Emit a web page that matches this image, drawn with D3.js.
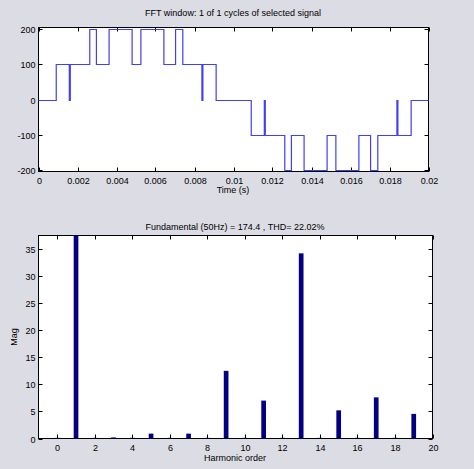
<!DOCTYPE html>
<html><head><meta charset="utf-8">
<script src="https://cdn.jsdelivr.net/npm/d3@7"></script>
<style>body{margin:0;background:#dcdce4}svg{display:block}text{font-family:"Liberation Sans",Arial,sans-serif;font-size:9px;fill:#000}</style>
</head><body><div id="chart"></div>
<script>
// step signal: [time, value] breakpoints for the first half cycle (second half is the mirror)
const halfSteps = [
  [0, 0], [0.00091, 100], [0.00158, 0], [0.00163, 100], [0.00263, 200], [0.00297, 100],
  [0.00362, 200], [0.0048, 100], [0.00525, 200], [0.00643, 100], [0.00703, 200],
  [0.0074, 100], [0.00838, 0], [0.00843, 100], [0.00911, 0]
];
const harmonicOrder = d3.range(0, 20);
const harmonicMag = [0.05, 100, 0.05, 0.2, 0.05, 0.9, 0.05, 0.9, 0.05, 12.5, 0.05, 7.0, 0.05, 34.2, 0.05, 5.2, 0.05, 7.6, 0.05, 4.55];
const timeTicks = [0, 0.002, 0.004, 0.006, 0.008, 0.01, 0.012, 0.014, 0.016, 0.018, 0.02];
const sigTicks = [-200, -100, 0, 100, 200];
const magTicks = [0, 5, 10, 15, 20, 25, 30, 35];
const ordTicks = [0, 2, 4, 6, 8, 10, 12, 14, 16, 18, 20];

const svg = d3.select('#chart').append('svg').attr('width', 474).attr('height', 469);

// build full-cycle step points
const steps = halfSteps.concat(halfSteps.map(d => [d[0] + 0.01, -d[1]]));
const pts = [];
steps.forEach((d, i) => {
  if (i > 0) pts.push([d[0], steps[i - 1][1]]);
  pts.push(d);
});
pts.push([0.02, steps[steps.length - 1][1]]);

function frame(g, x0, y0, w, h) {
  g.append('rect').attr('x', x0).attr('y', y0).attr('width', w).attr('height', h)
    .attr('fill', '#fff').attr('stroke', '#000').attr('stroke-width', 1);
}
function ticks(g, x, y, xt, yt, fmtX, fmtY) {
  const [xa, xb] = x.range(), [ya, yb] = y.range();
  xt.forEach(t => {
    const px = Math.round(x(t)) + 0.5;
    g.append('line').attr('x1', px).attr('x2', px).attr('y1', ya).attr('y2', ya - 4).attr('stroke', '#000');
    g.append('line').attr('x1', px).attr('x2', px).attr('y1', yb).attr('y2', yb + 4).attr('stroke', '#000');
    g.append('text').attr('x', px).attr('y', ya + 12).attr('text-anchor', 'middle').text(fmtX(t));
  });
  yt.forEach(t => {
    const py = Math.round(y(t)) + 0.5;
    g.append('line').attr('x1', xa).attr('x2', xa + 4).attr('y1', py).attr('y2', py).attr('stroke', '#000');
    g.append('line').attr('x1', xb).attr('x2', xb - 4).attr('y1', py).attr('y2', py).attr('stroke', '#000');
    g.append('text').attr('x', xa - 3).attr('y', py + 3).attr('text-anchor', 'end').text(fmtY(t));
  });
}

// top plot
const x1 = d3.scaleLinear().domain([0, 0.02]).range([38.5, 428.5]);
const y1 = d3.scaleLinear().domain([-203, 203]).range([171.5, 27.5]);
const topG = svg.append('g');
frame(topG, 38.5, 27.5, 390, 144);
ticks(topG, x1, y1, timeTicks, sigTicks, d => d === 0 ? '0' : String(+d.toFixed(3)), d => d);
topG.append('path').datum(pts)
  .attr('d', d3.line().x(d => x1(d[0])).y(d => Math.round(y1(d[1])) + 0.5))
  .attr('fill', 'none').attr('stroke', '#4040f0').attr('stroke-width', 1.2);
topG.append('text').attr('x', 233).attr('y', 16).attr('text-anchor', 'middle').text('FFT window: 1 of 1 cycles of selected signal');
topG.append('text').attr('x', 233).attr('y', 193).attr('text-anchor', 'middle').text('Time (s)');

// bottom plot
const x2 = d3.scaleLinear().domain([-1, 20]).range([38.5, 432.5]);
const y2 = d3.scaleLinear().domain([0, 37.5]).range([438.5, 235.5]);
const bot = svg.append('g');
frame(bot, 38.5, 235.5, 394, 203);
bot.append('clipPath').attr('id', 'clip').append('rect').attr('x', 38.5).attr('y', 235.5).attr('width', 394).attr('height', 203);
const bw = x2(0.25) - x2(0);
bot.append('g').attr('clip-path', 'url(#clip)').selectAll('rect').data(harmonicOrder).join('rect')
  .attr('x', d => x2(d) - bw / 2).attr('width', bw)
  .attr('y', (d, i) => y2(Math.max(harmonicMag[i], 0.12)))
  .attr('height', (d, i) => y2(0) - y2(Math.max(harmonicMag[i], 0.12)))
  .attr('fill', '#000080');
ticks(bot, x2, y2, ordTicks, magTicks, d => d, d => d);
bot.append('text').attr('x', 235).attr('y', 230).attr('text-anchor', 'middle').text('Fundamental (50Hz) = 174.4 , THD= 22.02%');
bot.append('text').attr('x', 235).attr('y', 461).attr('text-anchor', 'middle').text('Harmonic order');
bot.append('text').attr('transform', 'translate(17,337) rotate(-90)').attr('text-anchor', 'middle').text('Mag');
</script></body></html>
